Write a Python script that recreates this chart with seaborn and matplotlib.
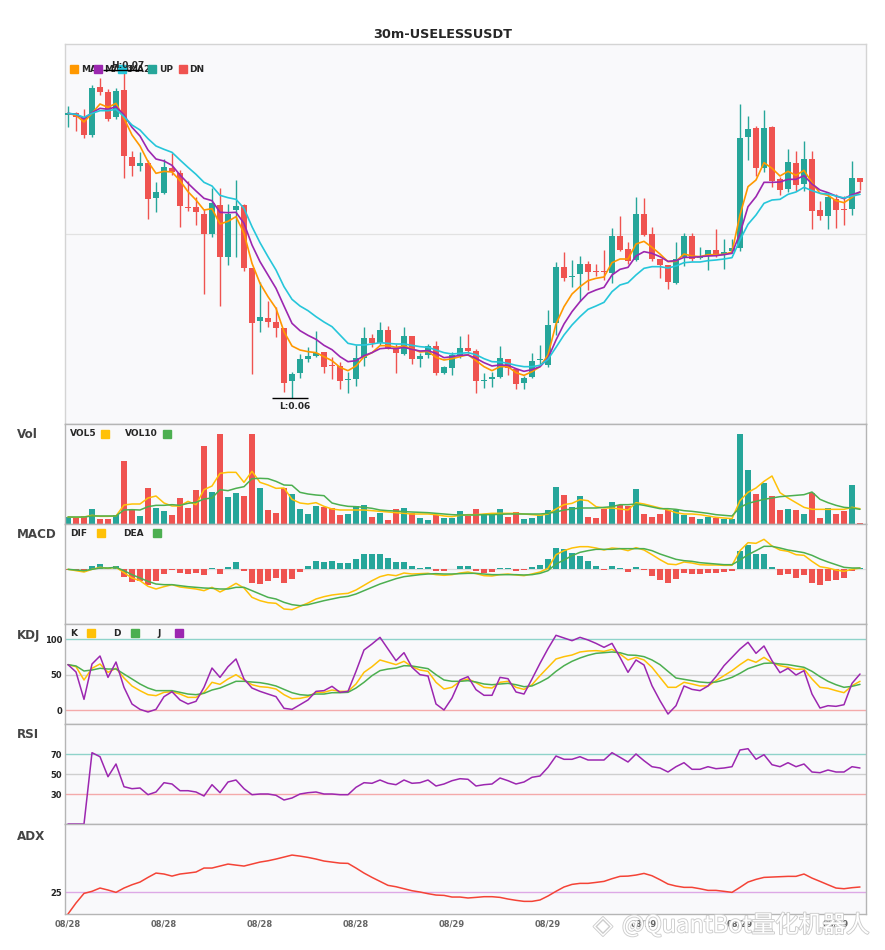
import numpy as np
import matplotlib
matplotlib.use("Agg")
import matplotlib.pyplot as plt
import matplotlib.patheffects as pe
import seaborn as sns

# ---- values: 100 x 30m candles starting 08/28 00:00 ----
TICK = 1e-5  # price arrays below are in 1e-5 USDT

open_px = np.array([
    6856, 6864, 6850, 6798, 6940, 6926, 6850, 6932, 6731, 6705,
    6713, 6609, 6624, 6699, 6684, 6582, 6581, 6560, 6501, 6587,
    6432, 6573, 6587, 6398, 6240, 6248, 6236, 6219, 6060, 6082,
    6124, 6135, 6146, 6105, 6104, 6063, 6066, 6127, 6188, 6174,
    6212, 6156, 6140, 6194, 6126, 6138, 6164, 6083, 6099, 6137,
    6158, 6149, 6060, 6066, 6072, 6125, 6096, 6054, 6072, 6123,
    6107, 6232, 6401, 6370, 6381, 6410, 6389, 6388, 6384, 6494,
    6454, 6422, 6560, 6500, 6425, 6407, 6354, 6432, 6494, 6428,
    6434, 6452, 6437, 6449, 6459, 6792, 6817, 6699, 6821, 6665,
    6636, 6713, 6651, 6725, 6572, 6555, 6604, 6575, 6576, 6668]) * TICK
close_px = np.array([
    6863, 6850, 6798, 6938, 6926, 6846, 6928, 6735, 6705, 6713,
    6606, 6626, 6701, 6685, 6585, 6579, 6567, 6501, 6593, 6432,
    6560, 6584, 6398, 6233, 6251, 6237, 6219, 6054, 6080, 6125,
    6134, 6144, 6102, 6103, 6060, 6065, 6127, 6188, 6172, 6212,
    6156, 6144, 6194, 6126, 6135, 6164, 6083, 6101, 6137, 6158,
    6149, 6060, 6062, 6070, 6128, 6098, 6051, 6068, 6119, 6125,
    6227, 6401, 6369, 6373, 6410, 6387, 6387, 6385, 6494, 6452,
    6420, 6560, 6497, 6425, 6407, 6357, 6424, 6494, 6424, 6434,
    6452, 6438, 6446, 6458, 6788, 6815, 6699, 6818, 6660, 6633,
    6716, 6648, 6725, 6570, 6555, 6612, 6573, 6573, 6668, 6657]) * TICK
high_px = np.array([
    6884, 6866, 6874, 6947, 6967, 6934, 6938, 6992, 6749, 6745,
    6722, 6656, 6726, 6742, 6692, 6660, 6612, 6575, 6637, 6639,
    6590, 6662, 6590, 6398, 6357, 6299, 6282, 6219, 6087, 6140,
    6162, 6210, 6146, 6132, 6116, 6087, 6166, 6222, 6200, 6236,
    6224, 6170, 6222, 6194, 6144, 6170, 6179, 6103, 6146, 6194,
    6200, 6154, 6082, 6086, 6164, 6125, 6096, 6074, 6142, 6166,
    6272, 6416, 6446, 6422, 6434, 6418, 6410, 6452, 6517, 6554,
    6476, 6612, 6608, 6521, 6425, 6407, 6476, 6502, 6502, 6460,
    6452, 6515, 6485, 6485, 6890, 6854, 6824, 6872, 6824, 6672,
    6754, 6749, 6779, 6749, 6599, 6627, 6620, 6614, 6719, 6668]) * TICK
low_px = np.array([
    6822, 6810, 6789, 6792, 6918, 6840, 6844, 6669, 6674, 6690,
    6546, 6567, 6620, 6677, 6522, 6570, 6527, 6320, 6492, 6285,
    6407, 6432, 6390, 6079, 6207, 6222, 6192, 6027, 6007, 6067,
    6117, 6132, 6084, 6066, 6036, 6022, 6045, 6105, 6160, 6167,
    6154, 6084, 6136, 6111, 6100, 6127, 6076, 6080, 6078, 6127,
    6142, 6022, 6037, 6040, 6067, 6076, 6036, 6036, 6067, 6107,
    6102, 6197, 6360, 6342, 6300, 6332, 6374, 6362, 6352, 6450,
    6410, 6420, 6494, 6420, 6368, 6336, 6350, 6404, 6419, 6424,
    6393, 6432, 6395, 6442, 6450, 6722, 6674, 6686, 6642, 6618,
    6627, 6629, 6630, 6516, 6542, 6516, 6519, 6527, 6558, 6632]) * TICK

ma5 = np.array([
    6862, 6856, 6836, 6862, 6890, 6880, 6892, 6847, 6797, 6764,
    6717, 6682, 6688, 6686, 6660, 6627, 6602, 6572, 6576, 6530,
    6538, 6552, 6502, 6412, 6352, 6312, 6277, 6207, 6164, 6152,
    6147, 6144, 6132, 6120, 6100, 6090, 6104, 6132, 6144, 6165,
    6165, 6160, 6164, 6156, 6146, 6148, 6130, 6122, 6126, 6132,
    6138, 6120, 6102, 6090, 6102, 6102, 6084, 6076, 6087, 6102,
    6137, 6230, 6282, 6320, 6342, 6360, 6367, 6371, 6414, 6425,
    6425, 6470, 6478, 6460, 6440, 6417, 6418, 6440, 6434, 6432,
    6438, 6438, 6439, 6446, 6557, 6642, 6662, 6714, 6697, 6674,
    6688, 6676, 6691, 6654, 6622, 6616, 6600, 6594, 6610, 6626]) * TICK
ma10 = np.array([
    6862, 6859, 6846, 6864, 6877, 6874, 6882, 6857, 6820, 6794,
    6752, 6725, 6719, 6706, 6677, 6652, 6629, 6607, 6600, 6565,
    6564, 6565, 6532, 6467, 6417, 6377, 6337, 6284, 6232, 6210,
    6196, 6184, 6166, 6153, 6132, 6117, 6120, 6135, 6144, 6156,
    6158, 6156, 6160, 6154, 6149, 6150, 6142, 6129, 6132, 6136,
    6137, 6127, 6114, 6104, 6107, 6106, 6096, 6088, 6093, 6102,
    6127, 6182, 6230, 6267, 6297, 6322, 6332, 6340, 6377, 6394,
    6400, 6434, 6447, 6442, 6432, 6418, 6420, 6430, 6430, 6432,
    6434, 6435, 6438, 6442, 6502, 6582, 6612, 6655, 6655, 6656,
    6664, 6664, 6675, 6650, 6632, 6624, 6614, 6606, 6618, 6626]) * TICK
ma20 = np.array([
    6862, 6859, 6850, 6862, 6870, 6870, 6874, 6852, 6827, 6812,
    6786, 6764, 6754, 6745, 6722, 6700, 6679, 6655, 6644, 6616,
    6609, 6604, 6577, 6522, 6474, 6432, 6392, 6342, 6304, 6284,
    6270, 6252, 6236, 6222, 6197, 6172, 6167, 6167, 6170, 6174,
    6172, 6170, 6170, 6166, 6162, 6160, 6152, 6144, 6140, 6142,
    6144, 6138, 6126, 6117, 6116, 6112, 6106, 6102, 6102, 6106,
    6124, 6160, 6197, 6227, 6252, 6274, 6284, 6295, 6327, 6347,
    6354, 6377, 6397, 6402, 6402, 6398, 6404, 6414, 6416, 6416,
    6420, 6422, 6425, 6429, 6482, 6529, 6557, 6592, 6602, 6604,
    6619, 6626, 6640, 6630, 6622, 6620, 6614, 6608, 6614, 6619]) * TICK

# volume in thousands
volume = np.array([
    400, 360, 460, 880, 300, 300, 540, 3780, 880, 480,
    2160, 960, 780, 540, 1560, 980, 2040, 4680, 1920, 5400,
    1620, 1860, 1680, 5400, 2160, 840, 660, 2160, 1800, 900,
    600, 1080, 1020, 940, 540, 600, 1080, 1140, 420, 660,
    240, 900, 960, 660, 360, 240, 540, 360, 360, 780,
    480, 900, 540, 540, 900, 420, 720, 300, 360, 540,
    840, 2220, 1740, 1020, 1680, 420, 360, 900, 1320, 1140,
    1080, 2100, 600, 420, 600, 840, 840, 540, 420, 300,
    420, 360, 300, 300, 5400, 3240, 1800, 2460, 1680, 840,
    900, 840, 600, 1860, 360, 940, 600, 780, 2340, 60])
vol5 = np.array([
    420, 400, 420, 520, 460, 460, 480, 1140, 1200, 1200,
    1560, 1680, 1260, 1080, 1080, 1360, 1160, 2060, 2280, 3040,
    3100, 3100, 2500, 3160, 2500, 2340, 2140, 2160, 1480, 1260,
    1200, 1280, 1060, 900, 840, 840, 840, 840, 800, 760,
    720, 680, 640, 600, 600, 600, 560, 480, 440, 520,
    560, 560, 600, 640, 640, 640, 640, 600, 560, 520,
    600, 900, 1160, 1240, 1460, 1400, 1040, 960, 960, 900,
    840, 1280, 1200, 1080, 960, 840, 680, 600, 600, 560,
    480, 400, 360, 320, 1400, 1900, 2160, 2560, 2880, 1880,
    1560, 1280, 1000, 880, 880, 880, 880, 880, 1000, 920])
vol10 = np.array([
    420, 420, 420, 480, 480, 480, 480, 840, 860, 840,
    1040, 1120, 1120, 1160, 1120, 1240, 1300, 1500, 1560, 2060,
    2000, 2140, 2240, 2720, 2740, 2720, 2560, 2340, 2320, 1900,
    1800, 1740, 1700, 1260, 1140, 1060, 1040, 1000, 940, 840,
    800, 780, 740, 720, 700, 680, 640, 600, 560, 540,
    540, 540, 560, 560, 580, 600, 600, 600, 600, 600,
    640, 720, 840, 900, 960, 960, 960, 1000, 1040, 1160,
    1160, 1200, 1120, 1020, 920, 920, 880, 800, 760, 700,
    640, 560, 520, 480, 1000, 1240, 1360, 1480, 1560, 1640,
    1680, 1720, 1760, 1920, 1480, 1280, 1120, 1000, 960, 880])

# MACD in 1e-5 units
macd_hist = np.array([
    -1, -4, -8, 10, 16, 4, 10, -22, -37, -34,
    -47, -36, -14, -2, -10, -13, -10, -16, 4, -13,
    8, 23, -4, -40, -43, -34, -25, -40, -28, -7,
    10, 26, 23, 26, 19, 19, 31, 46, 46, 46,
    34, 22, 22, 10, 4, 7, -4, -4, 0, 10,
    10, -5, -11, -7, 4, 4, -5, -2, 7, 13,
    31, 64, 61, 49, 40, 25, 10, -1, 10, 4,
    -7, 7, -2, -20, -32, -41, -29, -11, -14, -14,
    -11, -10, -8, -5, 55, 73, 46, 46, 7, -17,
    -14, -26, -17, -41, -47, -35, -32, -26, -5, 4]) * TICK
dif = np.array([
    0, -4, -8, 0, 6, 3, 6, -10, -26, -34,
    -51, -59, -52, -46, -53, -56, -59, -64, -54, -68,
    -56, -42, -56, -84, -94, -100, -102, -119, -121, -111,
    -101, -89, -82, -77, -74, -72, -62, -48, -34, -22,
    -16, -19, -11, -14, -13, -12, -16, -18, -16, -11,
    -8, -13, -19, -20, -16, -14, -17, -19, -14, -8,
    3, 44, 56, 64, 68, 68, 64, 58, 64, 62,
    56, 65, 58, 44, 29, 16, 14, 22, 19, 14,
    13, 13, 12, 12, 56, 80, 78, 90, 70, 58,
    54, 44, 42, 24, 8, 4, -2, -6, 0, 4]) * TICK
dea = np.array([
    0, -2, -4, 0, 4, 4, 6, -4, -16, -26,
    -36, -44, -46, -46, -49, -52, -54, -56, -57, -59,
    -59, -54, -54, -64, -74, -84, -89, -99, -106, -109,
    -106, -100, -94, -89, -84, -81, -74, -64, -54, -44,
    -36, -28, -22, -19, -16, -14, -13, -14, -14, -13,
    -12, -12, -14, -16, -16, -16, -16, -17, -16, -12,
    -4, 16, 28, 41, 51, 56, 60, 60, 60, 62,
    62, 62, 62, 56, 46, 38, 30, 26, 24, 20,
    18, 16, 14, 14, 28, 44, 56, 69, 69, 64,
    58, 54, 50, 42, 31, 22, 14, 6, 4, 4]) * TICK

kdj_k = np.array([
    64.2, 61.3, 42.5, 59.0, 65.1, 53.3, 59.0, 45.3, 34.0, 27.4,
    21.7, 20.3, 25.0, 25.9, 22.6, 17.9, 17.9, 25.0, 39.2, 36.3,
    43.9, 50.0, 42.5, 35.8, 33.0, 32.1, 29.7, 21.7, 16.0, 16.5,
    18.9, 25.0, 25.0, 28.3, 26.4, 26.4, 36.8, 53.3, 61.3, 70.8,
    67.5, 64.2, 68.9, 61.3, 56.6, 54.7, 39.2, 29.7, 32.1, 40.6,
    43.9, 38.7, 32.1, 31.1, 39.2, 40.6, 32.1, 29.2, 35.8, 48.6,
    60.4, 72.2, 75.5, 77.8, 82.1, 83.5, 84.0, 83.0, 85.8, 79.2,
    70.8, 74.5, 70.8, 60.4, 46.2, 32.1, 32.1, 39.2, 36.8, 34.0,
    34.0, 41.5, 48.6, 55.7, 64.2, 71.7, 67.5, 74.5, 67.0, 62.7,
    60.4, 57.5, 58.0, 43.9, 32.1, 30.7, 27.4, 24.5, 34.4, 40.6])
kdj_d = np.array([
    64.2, 62.3, 55.2, 56.6, 59.0, 58.0, 58.0, 50.9, 43.9, 36.8,
    31.1, 27.4, 27.4, 27.4, 25.0, 22.6, 21.7, 23.6, 28.3, 31.1,
    35.8, 40.6, 40.6, 39.6, 38.7, 36.8, 34.0, 29.2, 24.5, 21.7,
    20.8, 22.6, 22.6, 24.5, 24.5, 25.0, 31.1, 39.2, 48.6, 55.7,
    58.0, 59.4, 62.7, 62.3, 60.4, 58.5, 50.0, 42.5, 40.6, 40.6,
    41.5, 39.6, 36.8, 35.8, 36.8, 37.7, 35.8, 33.0, 34.0, 39.2,
    45.3, 54.7, 62.7, 68.9, 73.6, 77.4, 80.2, 81.1, 82.1, 81.1,
    77.8, 77.4, 75.5, 70.8, 64.2, 54.7, 45.3, 43.4, 41.5, 39.6,
    38.7, 39.6, 42.5, 46.2, 51.9, 58.5, 62.3, 66.0, 66.5, 65.1,
    64.2, 62.3, 60.4, 54.7, 47.2, 40.6, 35.8, 32.1, 33.5, 36.3])
kdj_j = np.array([
    64.2, 53.8, 15.1, 65.1, 76.4, 46.2, 67.9, 32.1, 8.5, 0.9,
    -2.8, 0.9, 18.9, 25.9, 14.2, 8.5, 12.3, 32.1, 59.4, 46.2,
    61.3, 72.2, 43.9, 31.1, 26.4, 22.6, 18.9, 2.4, 0.9, 7.5,
    14.2, 26.4, 27.4, 33.5, 25.0, 26.4, 54.7, 84.9, 93.4, 102.8,
    86.3, 69.8, 81.1, 60.4, 50.0, 48.1, 8.5, 0.0, 17.0, 42.5,
    47.2, 28.8, 20.8, 20.8, 46.2, 44.3, 25.5, 22.6, 43.9, 66.0,
    86.8, 105.7, 101.9, 98.1, 102.8, 99.1, 94.3, 88.7, 94.3, 74.5,
    53.3, 70.8, 63.7, 34.4, 13.2, -5.7, 6.1, 34.0, 29.2, 27.4,
    34.0, 47.2, 62.7, 74.5, 86.3, 95.8, 80.2, 90.6, 69.8, 52.8,
    59.0, 49.5, 55.7, 22.6, 2.8, 6.1, 5.2, 7.5, 37.7, 50.9])

rsi = np.array([
    0, 0, 0, 71.3, 67.3, 47.3, 60.0, 37.3, 35.3, 36.0,
    29.3, 32.0, 41.3, 40.0, 33.3, 33.3, 32.0, 28.0, 39.3, 31.3,
    42.0, 44.0, 35.3, 29.3, 30.0, 30.0, 28.7, 24.0, 26.0, 30.0,
    31.3, 32.0, 30.0, 30.0, 29.3, 29.3, 36.7, 41.3, 40.7, 44.0,
    40.7, 39.3, 44.0, 40.7, 41.3, 44.0, 38.0, 40.0, 43.3, 45.3,
    44.7, 38.0, 39.3, 40.0, 46.0, 43.3, 40.0, 42.0, 46.7, 48.0,
    56.7, 68.0, 64.7, 64.7, 67.3, 64.0, 64.0, 64.0, 71.3, 66.7,
    62.0, 70.0, 63.3, 57.3, 56.0, 52.0, 57.3, 61.3, 54.7, 54.7,
    57.3, 55.3, 56.0, 57.3, 74.0, 75.3, 64.7, 69.3, 59.3, 57.3,
    61.3, 57.3, 60.0, 52.0, 51.3, 54.0, 52.0, 52.0, 57.3, 56.0])

adx = np.array([
    0, 12.7, 23.8, 26.2, 30.0, 27.7, 25.0, 30.0, 33.8, 36.9,
    42.3, 47.3, 46.2, 43.8, 46.2, 47.3, 48.5, 53.1, 53.1, 55.4,
    57.7, 56.5, 55.4, 57.7, 60.0, 61.5, 63.5, 65.8, 68.1, 66.9,
    65.4, 63.5, 61.2, 60.0, 58.8, 58.5, 53.1, 47.3, 42.3, 37.7,
    33.1, 31.5, 29.2, 26.9, 25.4, 23.5, 21.9, 21.5, 19.6, 19.6,
    18.5, 19.2, 20.0, 20.0, 19.2, 17.3, 15.8, 14.6, 14.6, 16.2,
    20.8, 26.2, 31.2, 34.2, 35.4, 35.4, 36.5, 37.7, 40.8, 43.5,
    43.8, 45.0, 46.9, 44.2, 39.6, 34.6, 32.3, 30.8, 30.8, 29.2,
    27.3, 27.3, 26.2, 25.0, 30.8, 36.9, 40.0, 42.3, 42.7, 43.1,
    43.5, 43.5, 46.2, 41.5, 37.7, 33.8, 30.0, 29.2, 30.4, 31.2])

tick_pos = [0, 12, 24, 36, 48, 60, 72, 84, 96]
tick_labels = ["08/28", "08/28", "08/28", "08/28", "08/29",
               "08/29", "08/29", "08/29", "08/29"]

# ---- style ----
sns.set_style("white")
plt.rcParams["font.family"] = ["DejaVu Sans"]

UP, DN = "#26A69A", "#EF5350"
C_MA5, C_MA10, C_MA20 = "#FF9800", "#9C27B0", "#26C6DA"
YEL, GRN, PUR = "#FFC107", "#4CAF50", "#9C27B0"
BG = "#F9F9FB"

idx = np.arange(len(close_px))
is_up = close_px >= open_px
candle_col = np.where(is_up, UP, DN)

W, H = 885, 950
fig = plt.figure(figsize=(W / 100, H / 100), dpi=100)


def panel(top, bottom):
    ax = fig.add_axes([65 / W, 1 - bottom / H, 801 / W, (bottom - top) / H])
    ax.set_facecolor(BG)
    ax.set_xlim(-0.375, 99.75)
    ax.set_xticks([])
    ax.set_yticks([])
    for s in ax.spines.values():
        s.set_color("#b5b5b5")
        s.set_linewidth(1)
    return ax


def fx(px):
    return (px - 65) / 801


def legend_row(ax, items, y, ms=5.8):
    for tx, label, sx, color in items:
        ax.text(fx(tx), y, label, transform=ax.transAxes, fontsize=6.5,
                fontweight="bold", va="center", ha="left", zorder=5)
        ax.plot(fx(sx), y, marker="s", ms=ms, color=color, lw=0,
                transform=ax.transAxes, clip_on=False, zorder=6)


def ylabels(ax, vals):
    ax.set_yticks(vals, labels=[str(v) for v in vals], fontsize=6,
                  fontweight="bold", color="#222222")
    ax.tick_params(axis="y", length=0, pad=2)


ax_main = panel(44, 424)
ax_vol = panel(424, 524)
ax_macd = panel(524, 624)
ax_kdj = panel(624, 724)
ax_rsi = panel(724, 824)
ax_adx = panel(824, 914)
for s in ("top", "left", "right"):
    ax_main.spines[s].set_color("#d4d4d4")

# ---- main: candles + MA ----
ax = ax_main
ax.axhline(0.065, color="#e2e2e2", lw=0.9, zorder=0)
ax.vlines(idx, low_px, high_px, colors=candle_col, lw=1, zorder=2)
body = np.maximum(np.abs(close_px - open_px), 3e-5)
ax.bar(idx, body, bottom=np.minimum(open_px, close_px), width=0.75,
       color=candle_col, lw=0, zorder=3)
for series, color in ((ma5, C_MA5), (ma10, C_MA10), (ma20, C_MA20)):
    sns.lineplot(x=idx, y=series, color=color, lw=1.2, ax=ax, zorder=4)
ax.set_ylim(0.0593, 0.0707)
ax.set_ylabel("")

main_items = [(81, "MA5", 74, C_MA5), (104, "MA10", 98, C_MA10),
              (128, "MA20", 122, C_MA20), (159, "UP", 152, UP),
              (189, "DN", 182.5, DN)]
yl = (424 - 69) / 380
for tx, label, sx, color in main_items:
    ax.text(fx(tx), yl, label, transform=ax.transAxes, fontsize=6.5,
            fontweight="bold", va="center", ha="left", zorder=5)
for tx, label, sx, color in main_items:
    ax.plot(fx(sx), yl, marker="s", ms=5.2, color=color, lw=0,
            transform=ax.transAxes, clip_on=False, zorder=6)

hi_i, lo_i = int(np.argmax(high_px)), int(np.argmin(low_px))
ax.hlines(high_px[hi_i], hi_i - 2.6, hi_i + 2.25, color="black", lw=1, zorder=7)
ax.annotate(f"H:{high_px[hi_i]:.2f}", (hi_i + 0.5, high_px[hi_i]),
            xytext=(0, 0), textcoords="offset points", ha="center",
            va="bottom", fontsize=6.5, fontweight="bold", zorder=8)
ax.hlines(low_px[lo_i], lo_i - 2.5, lo_i + 2.0, color="black", lw=1, zorder=7)
ax.annotate(f"L:{low_px[lo_i]:.2f}", (lo_i + 0.4, low_px[lo_i]),
            xytext=(0, -3), textcoords="offset points", ha="center",
            va="top", fontsize=6.5, fontweight="bold", zorder=8)

# ---- volume ----
ax = ax_vol
ax.bar(idx, volume, width=0.75, color=candle_col, lw=0, zorder=2)
sns.lineplot(x=idx, y=vol5, color=YEL, lw=1.1, ax=ax, zorder=3)
sns.lineplot(x=idx, y=vol10, color=GRN, lw=1.1, ax=ax, zorder=3)
ax.set_ylim(0, 6000)
ax.set_ylabel("")
legend_row(ax, [(70, "VOL5", 105, YEL), (125, "VOL10", 167, GRN)], 0.90)

# ---- MACD ----
ax = ax_macd
ax.axhline(0, color="#dddddd", lw=0.9, zorder=1)
ax.bar(idx, macd_hist, width=0.75,
       color=np.where(macd_hist >= 0, UP, DN), lw=0, zorder=2)
sns.lineplot(x=idx, y=dif, color=YEL, lw=1.1, ax=ax, zorder=3)
sns.lineplot(x=idx, y=dea, color=GRN, lw=1.1, ax=ax, zorder=3)
ax.set_ylim(-164 * TICK, 136 * TICK)
ax.set_ylabel("")
legend_row(ax, [(70, "DIF", 101, YEL), (123, "DEA", 157, GRN)], 0.907)

# ---- KDJ ----
ax = ax_kdj
ax.axhline(100, color="#8FD3CA", lw=1, zorder=1)
ax.axhline(50, color="#cfcfcf", lw=1, zorder=1)
ax.axhline(0, color="#F4AAAA", lw=1, zorder=1)
sns.lineplot(x=idx, y=kdj_k, color=YEL, lw=1.1, ax=ax, zorder=3)
sns.lineplot(x=idx, y=kdj_d, color=GRN, lw=1.1, ax=ax, zorder=3)
sns.lineplot(x=idx, y=kdj_j, color=PUR, lw=1.1, ax=ax, zorder=4)
ax.set_ylim(-19.8, 121.7)
ax.set_ylabel("")
ylabels(ax, [0, 50, 100])
legend_row(ax, [(70, "K", 91, YEL), (113, "D", 135, GRN), (157, "J", 179, PUR)], 0.907)

# ---- RSI ----
ax = ax_rsi
ax.axhline(70, color="#8FD3CA", lw=1, zorder=1)
ax.axhline(50, color="#cfcfcf", lw=1, zorder=1)
ax.axhline(30, color="#F4AAAA", lw=1, zorder=1)
sns.lineplot(x=idx, y=rsi, color=PUR, lw=1.1, ax=ax, zorder=3)
ax.set_ylim(0, 100)
ax.set_ylabel("")
ylabels(ax, [30, 50, 70])

# ---- ADX ----
ax = ax_adx
ax.axhline(25, color="#DDA9E6", lw=1, zorder=1)
sns.lineplot(x=idx, y=adx, color="#F44336", lw=1.1, ax=ax, zorder=3)
ax.set_ylim(0, 104)
ax.set_ylabel("")
ylabels(ax, [25])
ax.set_xticks(tick_pos, labels=tick_labels, fontsize=6, fontweight="bold",
              color="#666666")
ax.tick_params(axis="x", length=0, pad=4)
ax.set_xlim(-0.375, 99.75)

# ---- panel names, title, watermark ----
for name, ypx in (("Vol", 435), ("MACD", 535), ("KDJ", 636), ("RSI", 735), ("ADX", 836)):
    fig.text(17 / W, 1 - ypx / H, name, fontsize=8.6, fontweight="bold",
             color="#444444", va="center", ha="left")
fig.text(0.5, 1 - 34 / H, "30m-USELESSUSDT", fontsize=9.3, fontweight="bold",
         ha="center", va="center")

# source watermark sits over the last tick labels, as in the original
halo = [pe.withStroke(linewidth=1.3, foreground="#cdcdcd")]
fig.text(603 / W, 1 - 926 / H, "\u25c8", fontsize=18, color="white",
         ha="center", va="center", path_effects=halo, zorder=20)
fig.text(622 / W, 1 - 925 / H, "@QuantBot量化机器人", fontsize=17,
         family=["Noto Sans CJK SC", "DejaVu Sans"], color="white",
         ha="left", va="center", path_effects=halo, zorder=20)

fig.savefig("out.png", dpi=100)
